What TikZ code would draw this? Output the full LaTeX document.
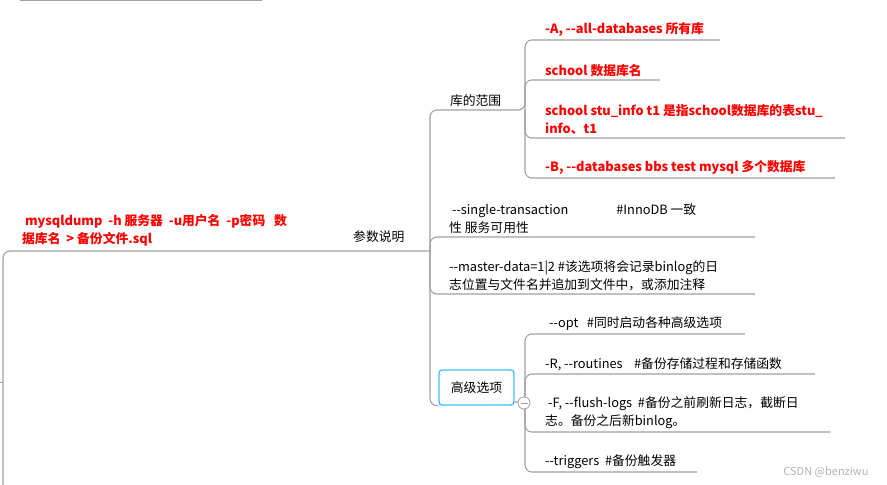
\documentclass[tikz,border=0pt]{standalone}
\usepackage{fontspec}
\setmainfont{Noto Sans CJK SC}
\usetikzlibrary{calc}
\definecolor{lineg}{RGB}{160,160,160}
\definecolor{selblue}{RGB}{60,190,245}
\newcommand{\dd}{-{}-}
\tikzset{
  branch/.style={draw=lineg,line width=1.1pt,rounded corners=7pt},
  leaf/.style={anchor=south west,inner xsep=0pt,inner ysep=3pt,align=left,font=\fontsize{12.8}{18}\selectfont},
  redleaf/.style={leaf,text=red,font=\fontsize{12.8}{18}\selectfont\bfseries},
}
\begin{document}
\begin{tikzpicture}[x=1pt,y=-1pt]
	\useasboundingbox (0,0) rectangle (887,485);
	%% stray line at the top
	\draw[lineg,line width=1pt] (20,0) -- (262,0);

	%% root
	\node[redleaf] (root) at (22,249)
	  {\ mysqldump\ \ -h 服务器\ \ -u用户名\ \ -p密码\ \ \ 数\\据库名\ \ > 备份文件.sql};
	\coordinate (j0) at (430,251);
	\draw[branch] (3,485) |- (j0);
	\draw[lineg,line width=1pt] (0,382) -- (3,382);
	\node[leaf,anchor=base west] (param) at (353,241) {参数说明};

	%% level 1
	\node[leaf] (scope) at (447,110) {\ 库的范围\ \ };
	\node[leaf] (single) at (449,237)
	  {\ \dd single-transaction\hspace{48pt}\#InnoDB 一致\\性 服务可用性};
	\node[leaf] (master) at (449,294)
	  {\dd master-data=1|2 \#该选项将会记录binlog的日\\志位置与文件名并追加到文件中，或添加注释};
	\node[draw=selblue,line width=1.3pt,rounded corners=3pt,minimum width=75pt,minimum height=35pt,
	  font=\fontsize{12.8}{14}\selectfont] (adv) at (476.5,387.5) {高级选项};
	\coordinate (j1) at (505,110);
	\coordinate (j2) at (514,402);
	\draw[branch] (j0) |- (j1);
	\draw[branch] (j0) |- (755,237);
	\draw[branch] (j0) |- (755,294);
	\draw[branch] (j0) |- (adv.south west);

	%% database scope
	\node[redleaf] (all) at (545,40) {-A, \dd all-databases 所有库};
	\node[redleaf] (school) at (545,80) {school 数据库名};
	\node[redleaf] (tbl) at (545,138) {school stu\_info t1 是指school数据库的表stu\_\\info、t1};
	\node[redleaf] (multi) at (545,178) {-B, \dd databases bbs test mysql 多个数据库};
	\draw[branch] (j1) -- (525,110) |- (720,40);
	\draw[branch] (525,110) |- (660,80);
	\draw[branch] (525,110) |- (845,138);
	\draw[branch] (525,110) |- (835,178);

	%% advanced options
	\node[leaf] (opt) at (549,334) {\dd opt\ \ \ \#同时启动各种高级选项};
	\node[leaf] (rout) at (545,374) {-R, \dd routines\ \ \ \ \#备份存储过程和存储函数};
	\node[leaf] (flush) at (545,432) {\ -F, \dd flush-logs\ \ \#备份之前刷新日志，截断日\\志。备份之后新binlog。};
	\node[leaf] (trig) at (545,472) {\dd triggers\ \ \#备份触发器};
	\draw[branch] (j2) -- (525,402) |- (745,334);
	\draw[branch] (525,402) |- (815,374);
	\draw[branch] (525,402) |- (830,432);
	\draw[branch] (525,402) |- (697,472);
	\node[circle,draw=lineg,fill=white,line width=0.8pt,minimum size=12pt,inner sep=0pt] (fold) at (524,403) {};
	\draw[lineg,line width=0.8pt] ($(fold.center)+(-3.5,0)$) -- ($(fold.center)+(3.5,0)$);

	%% watermark
	\node[anchor=base east,text=lineg!80,font=\fontsize{11}{12}\selectfont] (mark) at (872,475) {CSDN @benziwu};
\end{tikzpicture}
\end{document}
